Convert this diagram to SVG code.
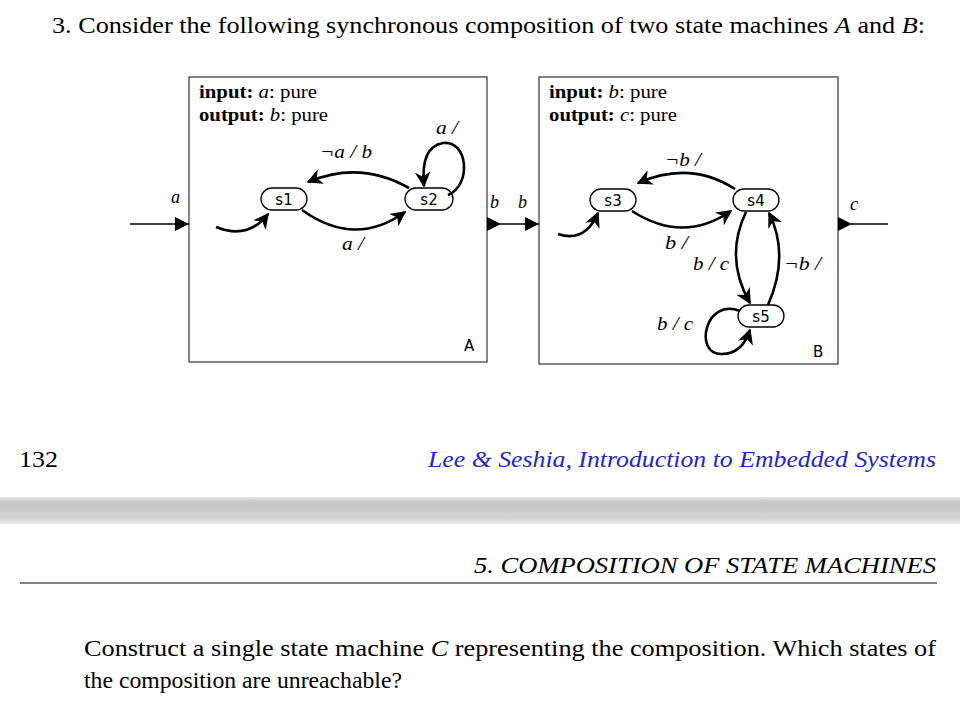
<svg xmlns="http://www.w3.org/2000/svg" width="960" height="710" viewBox="0 0 960 710">
<defs>
<marker id="ah" viewBox="0 0 10 10" refX="9" refY="5" markerWidth="6" markerHeight="6" orient="auto" markerUnits="strokeWidth"><path d="M0,0 L10,5 L0,10 L3,5 z" fill="#000"/></marker>
<marker id="tri" viewBox="0 0 10 10" refX="10" refY="5" markerWidth="14" markerHeight="14" orient="auto" markerUnits="userSpaceOnUse"><path d="M0,0 L10,5 L0,10 z" fill="#000"/></marker>
<linearGradient id="band" x1="0" y1="0" x2="0" y2="1"><stop offset="0" stop-color="#e8e8e8"/><stop offset="0.2" stop-color="#c4c4c4"/><stop offset="0.8" stop-color="#d4d4d4"/><stop offset="1" stop-color="#ececec"/></linearGradient>
</defs>
<style>
.t{font-family:"Liberation Serif",serif;fill:#000}
.i{font-style:italic}
.s{font-family:"DejaVu Sans","Liberation Sans",sans-serif;font-size:15px;fill:#000}
.box{fill:#fff;stroke:#333;stroke-width:1.2}
.node{fill:#fff;stroke:#000;stroke-width:1.3}
.e{fill:none;stroke:#000;stroke-width:2.6;marker-end:url(#ah)}
.io{stroke:#000;stroke-width:1.3;fill:none;marker-end:url(#tri)}
</style>
<rect width="960" height="710" fill="#fff"/>
<text class="t" x="52" y="33" font-size="24" textLength="873" lengthAdjust="spacingAndGlyphs">3. Consider the following synchronous composition of two state machines <tspan class="i">A</tspan> and <tspan class="i">B</tspan>:</text>

<g id="boxA"><rect class="box" x="189" y="77" width="298" height="285"/>
<text class="t" x="199" y="98" font-size="18" textLength="118" lengthAdjust="spacingAndGlyphs"><tspan font-weight="bold">input:</tspan> <tspan class="i">a</tspan>: pure</text>
<text class="t" x="199" y="121" font-size="18" textLength="129" lengthAdjust="spacingAndGlyphs"><tspan font-weight="bold">output:</tspan> <tspan class="i">b</tspan>: pure</text>
<text class="s" x="464" y="351" font-size="17">A</text></g>
<g id="boxB"><rect class="box" x="539" y="77" width="299" height="287"/>
<text class="t" x="549" y="98" font-size="18" textLength="118" lengthAdjust="spacingAndGlyphs"><tspan font-weight="bold">input:</tspan> <tspan class="i">b</tspan>: pure</text>
<text class="t" x="549" y="121" font-size="18" textLength="128" lengthAdjust="spacingAndGlyphs"><tspan font-weight="bold">output:</tspan> <tspan class="i">c</tspan>: pure</text>
<text class="s" x="813" y="357" font-size="17">B</text></g>

<g id="s1"><rect class="node" x="261" y="188" width="46" height="22" rx="11" stroke-width="2.6"/><text class="s" x="284" y="205" text-anchor="middle">s1</text></g>
<g id="s2"><rect class="node" x="405" y="188" width="48" height="22" rx="11"/><text class="s" x="429" y="205" text-anchor="middle">s2</text></g>
<g id="s3"><rect class="node" x="590" y="189" width="46" height="22" rx="11"/><text class="s" x="613" y="206" text-anchor="middle">s3</text></g>
<g id="s4"><rect class="node" x="733" y="189" width="46" height="22" rx="11"/><text class="s" x="756" y="206" text-anchor="middle">s4</text></g>
<g id="s5"><rect class="node" x="738" y="305" width="46" height="22" rx="11"/><text class="s" x="761" y="322" text-anchor="middle">s5</text></g>

<g id="connectors">
<line class="io" x1="130" y1="224" x2="189" y2="224"/>
<path d="M487,217 L501,224 L487,231 z" fill="#000"/>
<line class="io" x1="500" y1="224" x2="539" y2="224"/>
<path d="M838,217 L852,224 L838,231 z" fill="#000"/>
<line x1="851" y1="224" x2="888" y2="224" stroke="#000" stroke-width="1.3"/>

<path class="e" d="M216,227 Q248,240 268,214"/>
<path class="e" d="M302,210 Q355,248 405,212"/>
<path class="e" d="M409,188 Q360,160 308,182"/>
<path class="e" d="M448,195 C472,185 468,140 443,143 C425,146 422,165 424,186"/>

<path class="e" d="M558,234 Q585,243 598,213"/>
<path class="e" d="M632,211 Q683,244 731,211"/>
<path class="e" d="M735,189 Q690,160 638,183"/>
<path class="e" d="M746,212 Q724,258 750,303"/>
<path class="e" d="M768,305 Q790,255 769,213"/>
<path class="e" d="M740,311 C705,297 693,355 722,354 C737,354 745,345 750,330"/>
</g>

<g id="labels" class="t i" font-size="18">
<text x="171" y="203">a</text>
<text x="490" y="208">b</text>
<text x="518" y="208">b</text>
<text x="850" y="210">c</text>
<text x="320" y="158" textLength="52" lengthAdjust="spacingAndGlyphs">¬a / b</text>
<text x="436" y="134" textLength="22" lengthAdjust="spacingAndGlyphs">a /</text>
<text x="342" y="250" textLength="22" lengthAdjust="spacingAndGlyphs">a /</text>
<text x="665" y="166" textLength="36" lengthAdjust="spacingAndGlyphs">¬b /</text>
<text x="665" y="249" textLength="23" lengthAdjust="spacingAndGlyphs">b /</text>
<text x="693" y="270" textLength="36" lengthAdjust="spacingAndGlyphs">b / c</text>
<text x="784" y="270" textLength="37" lengthAdjust="spacingAndGlyphs">¬b /</text>
<text x="657" y="330" textLength="36" lengthAdjust="spacingAndGlyphs">b / c</text>
</g>

<text class="t" x="19" y="467" font-size="24" textLength="39" lengthAdjust="spacingAndGlyphs">132</text>
<text class="t i" x="428" y="467" font-size="24" textLength="508" lengthAdjust="spacingAndGlyphs" style="fill:#2424d0">Lee &amp; Seshia, Introduction to Embedded Systems</text>
<rect x="0" y="497" width="960" height="27" fill="url(#band)"/>
<text class="t i" x="474" y="573" font-size="24" textLength="462" lengthAdjust="spacingAndGlyphs">5. COMPOSITION OF STATE MACHINES</text>
<line x1="20" y1="583" x2="937" y2="583" stroke="#555" stroke-width="1.3"/>
<text class="t" x="84" y="656" font-size="24" textLength="852" lengthAdjust="spacingAndGlyphs">Construct a single state machine <tspan class="i">C</tspan> representing the composition. Which states of</text>
<text class="t" x="84" y="688" font-size="24" textLength="318" lengthAdjust="spacingAndGlyphs">the composition are unreachable?</text>
</svg>
